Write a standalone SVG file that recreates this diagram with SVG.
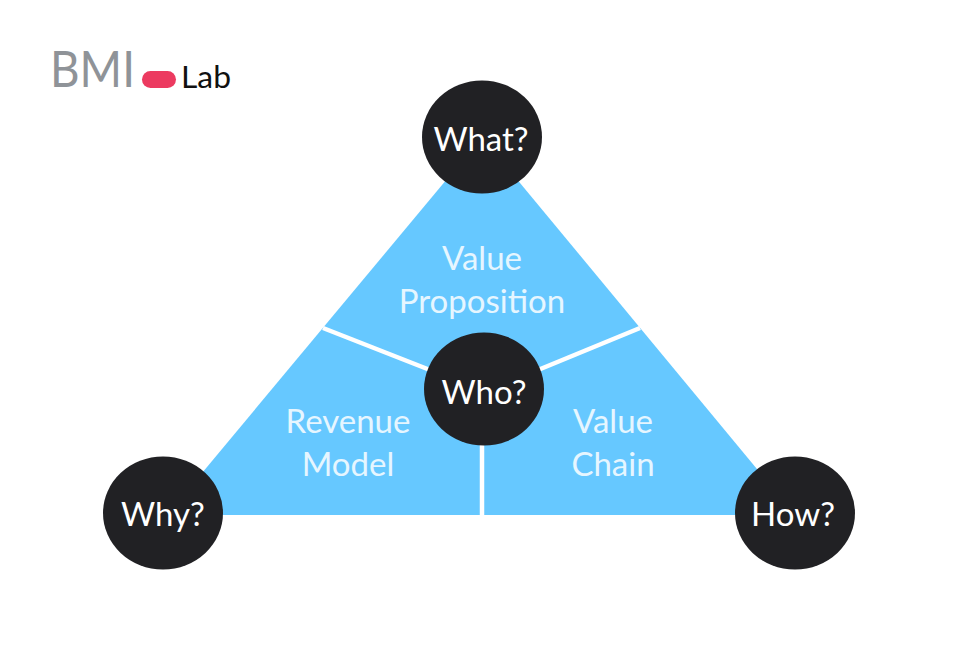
<svg xmlns="http://www.w3.org/2000/svg" width="957" height="667" viewBox="0 0 957 667">
<style>
.n{fill:#212124}
.t{font-family:Lato,"Noto Sans",sans-serif;font-size:33px;fill:#fff;text-anchor:middle}
.l{font-family:Lato,"Noto Sans",sans-serif;font-size:33px;fill:#e6f6ff;text-anchor:middle}
.c{stroke:#fff;stroke-width:4.500;fill:none}
</style>
<rect width="957" height="667" fill="#fff"/>
<g id="logo">
<text x="50" y="87" font-family="Lato,'Noto Sans',sans-serif" font-size="50" font-weight="400" fill="#8f9398" textLength="85" lengthAdjust="spacingAndGlyphs">BMI</text>
<rect x="142" y="71" width="34" height="17" rx="8.500" fill="#ec3a60"/>
<text x="181" y="88" font-family="Lato,'Noto Sans',sans-serif" font-size="30" fill="#111" textLength="50" lengthAdjust="spacingAndGlyphs">Lab</text>
</g>
<polygon id="triangle" points="482,137 167,515 795,515" fill="#66c8ff"/>
<g id="connectors">
<line class="c" x1="323" y1="328" x2="430" y2="370"/>
<line class="c" x1="640" y1="328" x2="538" y2="370"/>
<line class="c" x1="482" y1="440" x2="482" y2="516"/>
</g>
<g id="value-proposition"><text class="l" x="482" y="270">Value</text><text class="l" x="482" y="313">Proposition</text></g>
<g id="revenue-model"><text class="l" x="348" y="433">Revenue</text><text class="l" x="348" y="476">Model</text></g>
<g id="value-chain"><text class="l" x="613" y="433">Value</text><text class="l" x="613" y="476">Chain</text></g>
<g id="what"><ellipse class="n" cx="482" cy="137" rx="60" ry="56.500"/><text class="t" x="481" y="151">What?</text></g>
<g id="who"><ellipse class="n" cx="484" cy="389" rx="60" ry="56.500"/><text class="t" x="484" y="404">Who?</text></g>
<g id="why"><ellipse class="n" cx="163" cy="513" rx="60" ry="56.500"/><text class="t" x="163" y="526">Why?</text></g>
<g id="how"><ellipse class="n" cx="795" cy="513" rx="60" ry="56.500"/><text class="t" x="793" y="526">How?</text></g>
</svg>
